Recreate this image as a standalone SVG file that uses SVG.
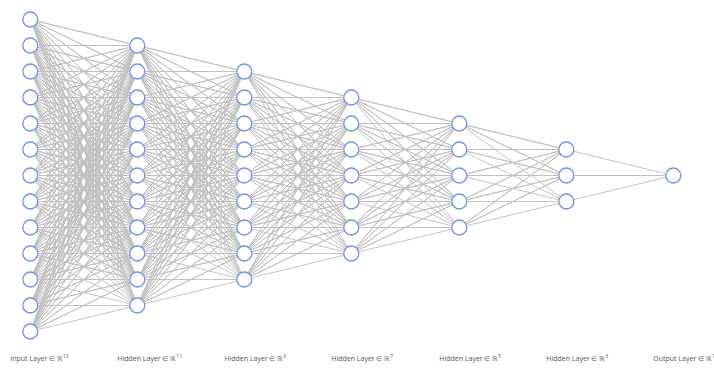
<svg xmlns="http://www.w3.org/2000/svg" width="714" height="380" viewBox="0 0 714 380">
<style>
.e{fill:none;stroke:#c0c0c0;stroke-width:0.95;stroke-linejoin:round}
.n{fill:#fff;stroke:#6f94e4;stroke-width:1.3}
.l{font-family:"Open Sans","Liberation Sans",sans-serif;font-size:7px;fill:#555}
.s{font-size:5px}
</style>
<rect width="714" height="380" fill="#fff"/>
<g transform="translate(0.3 0.5)">
<g id="connectors">
<path class="e" d="M30 19L137 45L30 19L137 71L30 19L137 97L30 19L137 123L30 19L137 149L30 19L137 175L30 19L137 201L30 19L137 227L30 19L137 253L30 19L137 279L30 19L137 305
M30 45L137 45L30 45L137 71L30 45L137 97L30 45L137 123L30 45L137 149L30 45L137 175L30 45L137 201L30 45L137 227L30 45L137 253L30 45L137 279L30 45L137 305
M30 71L137 45L30 71L137 71L30 71L137 97L30 71L137 123L30 71L137 149L30 71L137 175L30 71L137 201L30 71L137 227L30 71L137 253L30 71L137 279L30 71L137 305
M30 97L137 45L30 97L137 71L30 97L137 97L30 97L137 123L30 97L137 149L30 97L137 175L30 97L137 201L30 97L137 227L30 97L137 253L30 97L137 279L30 97L137 305
M30 123L137 45L30 123L137 71L30 123L137 97L30 123L137 123L30 123L137 149L30 123L137 175L30 123L137 201L30 123L137 227L30 123L137 253L30 123L137 279L30 123L137 305
M30 149L137 45L30 149L137 71L30 149L137 97L30 149L137 123L30 149L137 149L30 149L137 175L30 149L137 201L30 149L137 227L30 149L137 253L30 149L137 279L30 149L137 305
M30 175L137 45L30 175L137 71L30 175L137 97L30 175L137 123L30 175L137 149L30 175L137 175L30 175L137 201L30 175L137 227L30 175L137 253L30 175L137 279L30 175L137 305
M30 201L137 45L30 201L137 71L30 201L137 97L30 201L137 123L30 201L137 149L30 201L137 175L30 201L137 201L30 201L137 227L30 201L137 253L30 201L137 279L30 201L137 305
M30 227L137 45L30 227L137 71L30 227L137 97L30 227L137 123L30 227L137 149L30 227L137 175L30 227L137 201L30 227L137 227L30 227L137 253L30 227L137 279L30 227L137 305
M30 253L137 45L30 253L137 71L30 253L137 97L30 253L137 123L30 253L137 149L30 253L137 175L30 253L137 201L30 253L137 227L30 253L137 253L30 253L137 279L30 253L137 305
M30 279L137 45L30 279L137 71L30 279L137 97L30 279L137 123L30 279L137 149L30 279L137 175L30 279L137 201L30 279L137 227L30 279L137 253L30 279L137 279L30 279L137 305
M30 305L137 45L30 305L137 71L30 305L137 97L30 305L137 123L30 305L137 149L30 305L137 175L30 305L137 201L30 305L137 227L30 305L137 253L30 305L137 279L30 305L137 305
M30 331L137 45L30 331L137 71L30 331L137 97L30 331L137 123L30 331L137 149L30 331L137 175L30 331L137 201L30 331L137 227L30 331L137 253L30 331L137 279L30 331L137 305"/>
<path class="e" d="M137 45L244 71L137 45L244 97L137 45L244 123L137 45L244 149L137 45L244 175L137 45L244 201L137 45L244 227L137 45L244 253L137 45L244 279
M137 71L244 71L137 71L244 97L137 71L244 123L137 71L244 149L137 71L244 175L137 71L244 201L137 71L244 227L137 71L244 253L137 71L244 279
M137 97L244 71L137 97L244 97L137 97L244 123L137 97L244 149L137 97L244 175L137 97L244 201L137 97L244 227L137 97L244 253L137 97L244 279
M137 123L244 71L137 123L244 97L137 123L244 123L137 123L244 149L137 123L244 175L137 123L244 201L137 123L244 227L137 123L244 253L137 123L244 279
M137 149L244 71L137 149L244 97L137 149L244 123L137 149L244 149L137 149L244 175L137 149L244 201L137 149L244 227L137 149L244 253L137 149L244 279
M137 175L244 71L137 175L244 97L137 175L244 123L137 175L244 149L137 175L244 175L137 175L244 201L137 175L244 227L137 175L244 253L137 175L244 279
M137 201L244 71L137 201L244 97L137 201L244 123L137 201L244 149L137 201L244 175L137 201L244 201L137 201L244 227L137 201L244 253L137 201L244 279
M137 227L244 71L137 227L244 97L137 227L244 123L137 227L244 149L137 227L244 175L137 227L244 201L137 227L244 227L137 227L244 253L137 227L244 279
M137 253L244 71L137 253L244 97L137 253L244 123L137 253L244 149L137 253L244 175L137 253L244 201L137 253L244 227L137 253L244 253L137 253L244 279
M137 279L244 71L137 279L244 97L137 279L244 123L137 279L244 149L137 279L244 175L137 279L244 201L137 279L244 227L137 279L244 253L137 279L244 279
M137 305L244 71L137 305L244 97L137 305L244 123L137 305L244 149L137 305L244 175L137 305L244 201L137 305L244 227L137 305L244 253L137 305L244 279"/>
<path class="e" d="M244 71L351 97L244 71L351 123L244 71L351 149L244 71L351 175L244 71L351 201L244 71L351 227L244 71L351 253
M244 97L351 97L244 97L351 123L244 97L351 149L244 97L351 175L244 97L351 201L244 97L351 227L244 97L351 253
M244 123L351 97L244 123L351 123L244 123L351 149L244 123L351 175L244 123L351 201L244 123L351 227L244 123L351 253
M244 149L351 97L244 149L351 123L244 149L351 149L244 149L351 175L244 149L351 201L244 149L351 227L244 149L351 253
M244 175L351 97L244 175L351 123L244 175L351 149L244 175L351 175L244 175L351 201L244 175L351 227L244 175L351 253
M244 201L351 97L244 201L351 123L244 201L351 149L244 201L351 175L244 201L351 201L244 201L351 227L244 201L351 253
M244 227L351 97L244 227L351 123L244 227L351 149L244 227L351 175L244 227L351 201L244 227L351 227L244 227L351 253
M244 253L351 97L244 253L351 123L244 253L351 149L244 253L351 175L244 253L351 201L244 253L351 227L244 253L351 253
M244 279L351 97L244 279L351 123L244 279L351 149L244 279L351 175L244 279L351 201L244 279L351 227L244 279L351 253"/>
<path class="e" d="M351 97L459 123L351 97L459 149L351 97L459 175L351 97L459 201L351 97L459 227
M351 123L459 123L351 123L459 149L351 123L459 175L351 123L459 201L351 123L459 227
M351 149L459 123L351 149L459 149L351 149L459 175L351 149L459 201L351 149L459 227
M351 175L459 123L351 175L459 149L351 175L459 175L351 175L459 201L351 175L459 227
M351 201L459 123L351 201L459 149L351 201L459 175L351 201L459 201L351 201L459 227
M351 227L459 123L351 227L459 149L351 227L459 175L351 227L459 201L351 227L459 227
M351 253L459 123L351 253L459 149L351 253L459 175L351 253L459 201L351 253L459 227"/>
<path class="e" d="M459 123L566 149L459 123L566 175L459 123L566 201
M459 149L566 149L459 149L566 175L459 149L566 201
M459 175L566 149L459 175L566 175L459 175L566 201
M459 201L566 149L459 201L566 175L459 201L566 201
M459 227L566 149L459 227L566 175L459 227L566 201"/>
<path class="e" d="M566 149L673 175L566 175L673 175L566 201"/>
</g>
<g id="layer-input">
<circle class="n" cx="30" cy="19" r="7.5"/><circle class="n" cx="30" cy="45" r="7.5"/><circle class="n" cx="30" cy="71" r="7.5"/><circle class="n" cx="30" cy="97" r="7.5"/><circle class="n" cx="30" cy="123" r="7.5"/><circle class="n" cx="30" cy="149" r="7.5"/><circle class="n" cx="30" cy="175" r="7.5"/><circle class="n" cx="30" cy="201" r="7.5"/><circle class="n" cx="30" cy="227" r="7.5"/><circle class="n" cx="30" cy="253" r="7.5"/><circle class="n" cx="30" cy="279" r="7.5"/><circle class="n" cx="30" cy="305" r="7.5"/><circle class="n" cx="30" cy="331" r="7.5"/>
<text class="l" x="10" y="360.5">Input Layer ∈ ℝ<tspan class="s" dy="-3">13</tspan></text>
</g>
<g id="layer-hidden-1">
<circle class="n" cx="137" cy="45" r="7.5"/><circle class="n" cx="137" cy="71" r="7.5"/><circle class="n" cx="137" cy="97" r="7.5"/><circle class="n" cx="137" cy="123" r="7.5"/><circle class="n" cx="137" cy="149" r="7.5"/><circle class="n" cx="137" cy="175" r="7.5"/><circle class="n" cx="137" cy="201" r="7.5"/><circle class="n" cx="137" cy="227" r="7.5"/><circle class="n" cx="137" cy="253" r="7.5"/><circle class="n" cx="137" cy="279" r="7.5"/><circle class="n" cx="137" cy="305" r="7.5"/>
<text class="l" x="117" y="360.5">Hidden Layer ∈ ℝ<tspan class="s" dy="-3">11</tspan></text>
</g>
<g id="layer-hidden-2">
<circle class="n" cx="244" cy="71" r="7.5"/><circle class="n" cx="244" cy="97" r="7.5"/><circle class="n" cx="244" cy="123" r="7.5"/><circle class="n" cx="244" cy="149" r="7.5"/><circle class="n" cx="244" cy="175" r="7.5"/><circle class="n" cx="244" cy="201" r="7.5"/><circle class="n" cx="244" cy="227" r="7.5"/><circle class="n" cx="244" cy="253" r="7.5"/><circle class="n" cx="244" cy="279" r="7.5"/>
<text class="l" x="224" y="360.5">Hidden Layer ∈ ℝ<tspan class="s" dy="-3">9</tspan></text>
</g>
<g id="layer-hidden-3">
<circle class="n" cx="351" cy="97" r="7.5"/><circle class="n" cx="351" cy="123" r="7.5"/><circle class="n" cx="351" cy="149" r="7.5"/><circle class="n" cx="351" cy="175" r="7.5"/><circle class="n" cx="351" cy="201" r="7.5"/><circle class="n" cx="351" cy="227" r="7.5"/><circle class="n" cx="351" cy="253" r="7.5"/>
<text class="l" x="331" y="360.5">Hidden Layer ∈ ℝ<tspan class="s" dy="-3">7</tspan></text>
</g>
<g id="layer-hidden-4">
<circle class="n" cx="459" cy="123" r="7.5"/><circle class="n" cx="459" cy="149" r="7.5"/><circle class="n" cx="459" cy="175" r="7.5"/><circle class="n" cx="459" cy="201" r="7.5"/><circle class="n" cx="459" cy="227" r="7.5"/>
<text class="l" x="439" y="360.5">Hidden Layer ∈ ℝ<tspan class="s" dy="-3">5</tspan></text>
</g>
<g id="layer-hidden-5">
<circle class="n" cx="566" cy="149" r="7.5"/><circle class="n" cx="566" cy="175" r="7.5"/><circle class="n" cx="566" cy="201" r="7.5"/>
<text class="l" x="546" y="360.5">Hidden Layer ∈ ℝ<tspan class="s" dy="-3">3</tspan></text>
</g>
<g id="layer-output">
<circle class="n" cx="673" cy="175" r="7.5"/>
<text class="l" x="653" y="360.5">Output Layer ∈ ℝ<tspan class="s" dy="-3">1</tspan></text>
</g>
</g>
</svg>
